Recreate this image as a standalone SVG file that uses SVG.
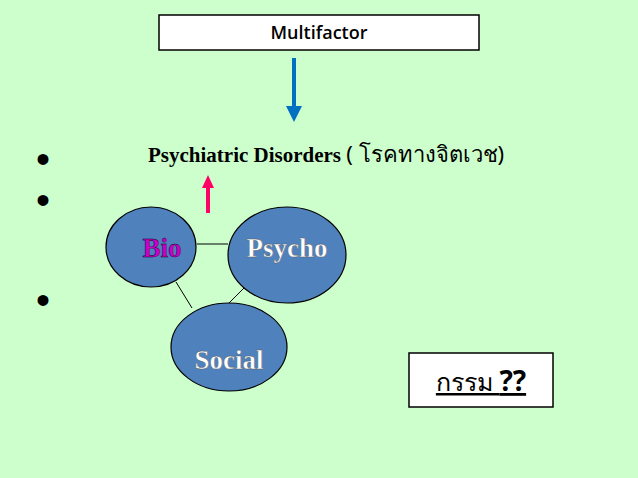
<svg xmlns="http://www.w3.org/2000/svg" width="638" height="478" viewBox="0 0 638 478">
<style>
.n{fill:#4f81bd;stroke:#000;stroke-width:1.2}
.t{font-family:"Liberation Serif",serif;font-weight:bold;font-size:27px;text-anchor:middle}
.b{font-family:"Liberation Sans",sans-serif;font-size:40px}
</style>
<rect width="638" height="478" fill="#ccffcc"/>
<g id="multifactor"><rect x="159" y="15" width="320" height="35" fill="#fff" stroke="#000" stroke-width="1.5"/>
<text x="319" y="39" font-family="Open Sans,Noto Sans,sans-serif" font-weight="600" font-size="18" text-anchor="middle">Multifactor</text></g>
<g id="bullets"><text x="36" y="173" class="b">•</text><text x="36" y="214" class="b">•</text><text x="36" y="314" class="b">•</text></g>
<g id="title"><text x="148" y="162" font-family="Liberation Serif,serif" font-weight="bold" font-size="21">Psychiatric Disorders <tspan font-weight="normal" font-family="Noto Sans,sans-serif" font-size="22">( โรคทางจิตเวช)</tspan></text></g>
<g id="connectors" stroke="#000" stroke-width="1">
<line x1="197" y1="244" x2="228" y2="244"/>
<line x1="176" y1="282" x2="192" y2="308"/>
<line x1="244" y1="288" x2="229" y2="303"/>
<line x1="294" y1="58" x2="294" y2="108" stroke="#0070c0" stroke-width="4"/>
<polygon points="286,106 302,106 294,122" fill="#0070c0" stroke="none"/>
<line x1="208" y1="186" x2="208" y2="213" stroke="#ff0066" stroke-width="4"/>
<polygon points="202,188 214,188 208,175" fill="#ff0066" stroke="none"/>
</g>
<g id="bio"><ellipse class="n" cx="151" cy="247" rx="45" ry="40"/><text x="162" y="257" class="t" fill="#cc00cc" stroke="#000" stroke-width="0.4">Bio</text></g>
<g id="psycho"><ellipse class="n" cx="287" cy="255" rx="59" ry="48"/><text x="287" y="257" class="t" fill="#fff" stroke="#555" stroke-width="0.4">Psycho</text></g>
<g id="social"><ellipse class="n" cx="229" cy="347" rx="58" ry="44"/><text x="229" y="369" class="t" fill="#fff" stroke="#555" stroke-width="0.4">Social</text></g>
<g id="karma"><rect x="409" y="353" width="144" height="54" fill="#fff" stroke="#000" stroke-width="1.5"/>
<text x="481" y="391" font-family="Noto Sans,Open Sans,sans-serif" font-size="25" text-anchor="middle" text-decoration="underline">กรรม <tspan font-weight="bold" font-size="28">??</tspan></text></g>
</svg>
